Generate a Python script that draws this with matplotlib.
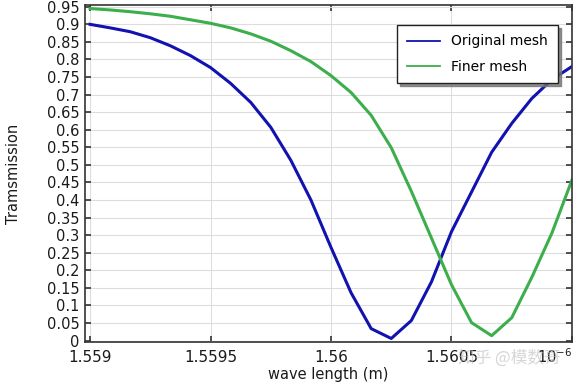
import numpy as np
import matplotlib.pyplot as plt

# wavelength in micrometres (plotted on a 1e-6 scale)
wavelength = [1.559, 1.5590833, 1.5591667, 1.55925, 1.5593333, 1.5594167,
              1.5595, 1.5595833, 1.5596667, 1.55975, 1.5598333, 1.5599167,
              1.56, 1.5600833, 1.5601667, 1.56025, 1.5603333, 1.5604167,
              1.5605, 1.5605833, 1.5606667, 1.56075, 1.5608333, 1.5609167,
              1.561]
original_mesh = [0.900, 0.890, 0.879, 0.862, 0.839, 0.811, 0.777, 0.732,
                 0.678, 0.607, 0.513, 0.400, 0.265, 0.136, 0.034, 0.006,
                 0.057, 0.167, 0.310, 0.423, 0.536, 0.618, 0.689, 0.743,
                 0.780]
finer_mesh = [0.945, 0.941, 0.936, 0.930, 0.923, 0.913, 0.903, 0.890,
              0.873, 0.852, 0.825, 0.794, 0.754, 0.706, 0.641, 0.549,
              0.425, 0.292, 0.159, 0.051, 0.014, 0.065, 0.180, 0.306,
              0.457]
xticks = [1.559, 1.5595, 1.56, 1.5605]
yticks = [0, 0.05, 0.1, 0.15, 0.2, 0.25, 0.3, 0.35, 0.4, 0.45, 0.5,
          0.55, 0.6, 0.65, 0.7, 0.75, 0.8, 0.85, 0.9, 0.95]

fig = plt.figure(figsize=(5.76, 3.86), dpi=100)
ax = fig.add_axes([0.148, 0.114, 0.845, 0.873])

ax.plot(wavelength, original_mesh, color='#1212b0', lw=2.2, label='Original mesh')
ax.plot(wavelength, finer_mesh, color='#3cae4c', lw=2.2, label='Finer mesh')

ax.set_xlim(1.55898, 1.561)
ax.set_ylim(-0.004, 0.955)
ax.set_xticks(xticks + [1.561])
ax.set_xticklabels(['1.559', '1.5595', '1.56', '1.5605', ''])
ax.set_yticks(yticks)
ax.set_yticklabels(['%g' % v for v in yticks])
ax.tick_params(direction='in', top=True, right=True, labelsize=10.5,
               length=4, width=1.2, colors='#333333', labelcolor='#1a1a1a')
ax.tick_params(axis='y', pad=4)
ax.tick_params(axis='x', pad=6, labelsize=11)
ax.grid(True, color='#dddddd', lw=0.8)
ax.set_axisbelow(True)
for s in ax.spines.values():
    s.set_color('#333333')
    s.set_linewidth(1.2)

ax.set_xlabel('wave length (m)', fontsize=10.5, labelpad=1, color='#1a1a1a')
ax.set_ylabel('Tramsmission', fontsize=10.5, labelpad=19, color='#1a1a1a')
ax.text(1.0, -0.015, r'$10^{-6}$', transform=ax.transAxes,
        ha='right', va='top', fontsize=10.5, color='#1a1a1a')

leg = ax.legend(loc='upper right', bbox_to_anchor=(0.985, 0.962), fontsize=10,
                fancybox=False, shadow={'color': '0.45', 'alpha': 0.8},
                framealpha=1, edgecolor='#222222',
                handlelength=2.4, borderpad=0.7, labelspacing=0.8)
for line in leg.get_lines():
    line.set_linewidth(1.3)

fig.text(0.885, 0.072, '知乎 @模数哥', family=['Noto Sans CJK SC', 'DejaVu Sans'],
         fontsize=12, color='#bbbbbb', alpha=0.6, ha='center', va='center')

fig.savefig('out.png', dpi=100)
